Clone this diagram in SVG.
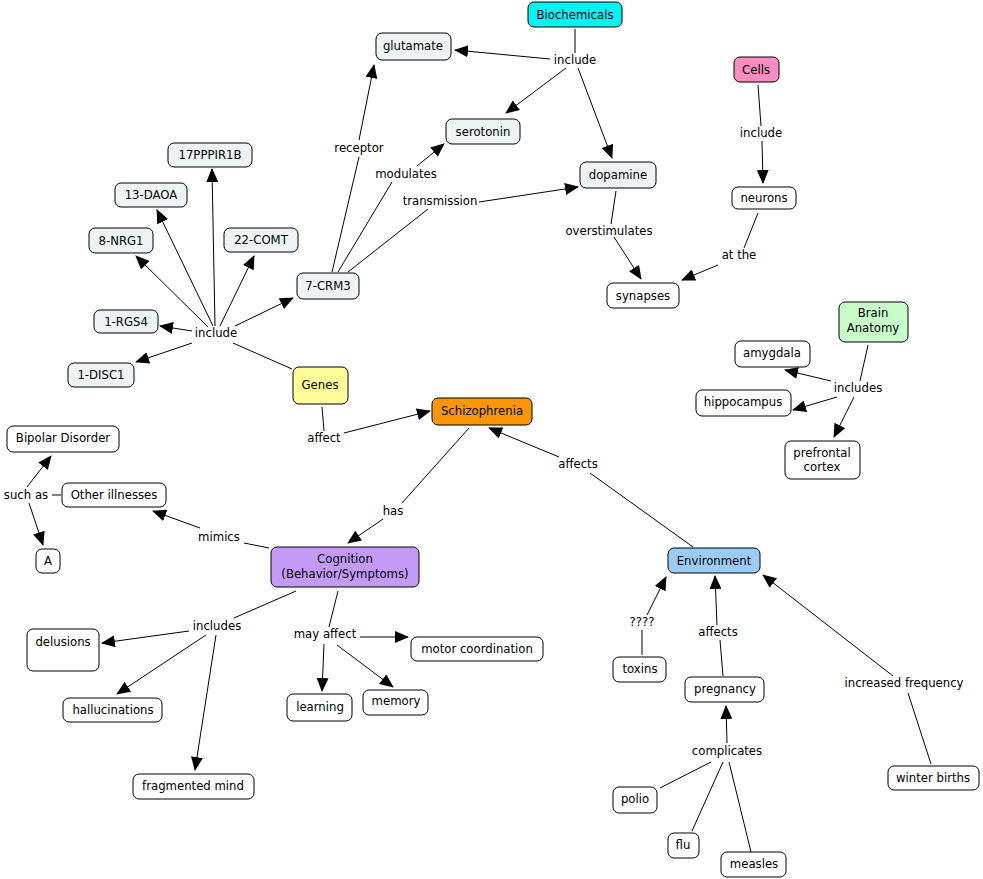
<svg xmlns="http://www.w3.org/2000/svg" width="983" height="879" viewBox="0 0 983 879">
<style>
text{font-family:"DejaVu Sans","Verdana",sans-serif;font-size:11.7px;fill:#000;text-anchor:middle}
.n rect{stroke:#000;stroke-width:1;fill:#fff}
.g rect{fill:#EEF4F6}
.c line{stroke:#000;stroke-width:1}
.a{marker-end:url(#ah)}
</style>
<defs>
<marker id="ah" markerUnits="userSpaceOnUse" markerWidth="14" markerHeight="12" refX="13" refY="6" orient="auto" viewBox="0 0 14 12">
<path d="M0,0 L14,6 L0,12 z" fill="#000"/>
</marker>
</defs>
<rect width="983" height="879" fill="#fff"/>
<g id="connectors" class="c">
<line x1="575" y1="29" x2="575" y2="53"/>
<line class="a" x1="550" y1="59" x2="455" y2="50"/>
<line class="a" x1="566" y1="68" x2="506" y2="113"/>
<line class="a" x1="578" y1="68" x2="612" y2="158"/>
<line x1="332" y1="272" x2="359" y2="157"/>
<line class="a" x1="359" y1="140" x2="374" y2="65"/>
<line x1="338" y1="272" x2="392" y2="182"/>
<line class="a" x1="417" y1="166" x2="444" y2="144"/>
<line x1="348" y1="272" x2="428" y2="209"/>
<line class="a" x1="479" y1="202" x2="578" y2="187"/>
<line x1="616" y1="191" x2="611" y2="224"/>
<line class="a" x1="614" y1="237" x2="641" y2="279"/>
<line x1="758" y1="85" x2="761" y2="126"/>
<line class="a" x1="762" y1="141" x2="763" y2="183"/>
<line x1="758" y1="213" x2="744" y2="248"/>
<line class="a" x1="718" y1="265" x2="682" y2="280"/>
<line x1="868" y1="345" x2="860" y2="381"/>
<line class="a" x1="831" y1="381" x2="785" y2="370"/>
<line class="a" x1="837" y1="397" x2="793" y2="410"/>
<line class="a" x1="854" y1="397" x2="834" y2="437"/>
<line x1="292" y1="369" x2="233" y2="343"/>
<line class="a" x1="235" y1="326" x2="293" y2="298"/>
<line class="a" x1="192" y1="331" x2="160" y2="326"/>
<line class="a" x1="192" y1="343" x2="136" y2="362"/>
<line class="a" x1="208" y1="327" x2="136" y2="256"/>
<line class="a" x1="213" y1="326" x2="157" y2="210"/>
<line class="a" x1="215" y1="326" x2="212" y2="169"/>
<line class="a" x1="220" y1="326" x2="254" y2="256"/>
<line x1="322" y1="407" x2="324" y2="431"/>
<line class="a" x1="344" y1="433" x2="430" y2="411"/>
<line x1="469" y1="428" x2="402" y2="503"/>
<line class="a" x1="383" y1="519" x2="348" y2="543"/>
<line x1="693" y1="547" x2="590" y2="473"/>
<line class="a" x1="559" y1="457" x2="489" y2="428"/>
<line x1="61" y1="495" x2="52" y2="495"/>
<line class="a" x1="27" y1="487" x2="51" y2="456"/>
<line class="a" x1="29" y1="503" x2="43" y2="545"/>
<line x1="269" y1="548" x2="244" y2="543"/>
<line class="a" x1="200" y1="528" x2="153" y2="511"/>
<line x1="296" y1="591" x2="234" y2="618"/>
<line class="a" x1="189" y1="631" x2="102" y2="643"/>
<line class="a" x1="206" y1="635" x2="117" y2="694"/>
<line class="a" x1="216" y1="635" x2="195" y2="770"/>
<line x1="338" y1="591" x2="329" y2="627"/>
<line class="a" x1="360" y1="637" x2="408" y2="637"/>
<line class="a" x1="324" y1="644" x2="322" y2="691"/>
<line class="a" x1="337" y1="645" x2="393" y2="687"/>
<line x1="642" y1="655" x2="642" y2="630"/>
<line class="a" x1="647" y1="615" x2="666" y2="577"/>
<line x1="723" y1="676" x2="720" y2="640"/>
<line class="a" x1="717" y1="625" x2="715" y2="576"/>
<line x1="931" y1="764" x2="908" y2="693"/>
<line class="a" x1="893" y1="676" x2="763" y2="575"/>
<line x1="660" y1="788" x2="711" y2="762"/>
<line x1="692" y1="831" x2="723" y2="762"/>
<line x1="751" y1="852" x2="729" y2="762"/>
<line class="a" x1="727" y1="743" x2="726" y2="706"/>
</g>
<g id="labels">
<text x="575" y="64">include</text>
<text x="359" y="152">receptor</text>
<text x="406" y="178">modulates</text>
<text x="440" y="205">transmission</text>
<text x="609" y="235">overstimulates</text>
<text x="761" y="137">include</text>
<text x="739" y="259">at the</text>
<text x="858" y="392">includes</text>
<text x="216" y="337">include</text>
<text x="324" y="442">affect</text>
<text x="393" y="515">has</text>
<text x="578" y="468">affects</text>
<text x="26" y="499">such as</text>
<text x="219" y="541">mimics</text>
<text x="217" y="630">includes</text>
<text x="325" y="638">may affect</text>
<text x="642" y="626">????</text>
<text x="718" y="636">affects</text>
<text x="904" y="687">increased frequency</text>
<text x="727" y="755">complicates</text>
</g>
<g id="biochemicals" class="n"><rect x="528" y="2" width="94" height="25" rx="6" style="fill:#00F4F4"/><text x="575" y="19">Biochemicals</text></g>
<g id="glutamate" class="n g"><rect x="376" y="33" width="75" height="27" rx="6"/><text x="413" y="50">glutamate</text></g>
<g id="serotonin" class="n g"><rect x="446" y="119" width="74" height="25" rx="6"/><text x="483" y="136">serotonin</text></g>
<g id="dopamine" class="n g"><rect x="580" y="162" width="76" height="26" rx="6"/><text x="618" y="179">dopamine</text></g>
<g id="synapses" class="n"><rect x="607" y="283" width="72" height="25" rx="6"/><text x="643" y="300">synapses</text></g>
<g id="crm3" class="n g"><rect x="297" y="273" width="62" height="26" rx="6"/><text x="328" y="290">7-CRM3</text></g>
<g id="ppp" class="n g"><rect x="168" y="143" width="84" height="24" rx="6"/><text x="210" y="159">17PPPIR1B</text></g>
<g id="daoa" class="n g"><rect x="115" y="183" width="72" height="24" rx="6"/><text x="151" y="199">13-DAOA</text></g>
<g id="nrg1" class="n g"><rect x="89" y="228" width="64" height="25" rx="6"/><text x="121" y="245">8-NRG1</text></g>
<g id="comt" class="n g"><rect x="224" y="228" width="74" height="24" rx="6"/><text x="261" y="244">22-COMT</text></g>
<g id="rgs4" class="n g"><rect x="94" y="310" width="64" height="23" rx="6"/><text x="126" y="326">1-RGS4</text></g>
<g id="disc1" class="n g"><rect x="68" y="363" width="66" height="24" rx="6"/><text x="101" y="379">1-DISC1</text></g>
<g id="genes" class="n"><rect x="293" y="367" width="55" height="37" rx="6" style="fill:#FFFC99"/><text x="320" y="389">Genes</text></g>
<g id="cells" class="n"><rect x="734" y="57" width="45" height="25" rx="6" style="fill:#F98CC0"/><text x="756" y="74">Cells</text></g>
<g id="neurons" class="n"><rect x="732" y="187" width="64" height="22" rx="6"/><text x="764" y="202">neurons</text></g>
<g id="brain" class="n"><rect x="839" y="302" width="69" height="40" rx="6" style="fill:#C8FCC8"/><text x="873" y="317">Brain</text><text x="873" y="332">Anatomy</text></g>
<g id="amygdala" class="n"><rect x="735" y="341" width="75" height="26" rx="6"/><text x="772" y="357">amygdala</text></g>
<g id="hippocampus" class="n"><rect x="696" y="390" width="95" height="26" rx="6"/><text x="743" y="406">hippocampus</text></g>
<g id="prefrontal" class="n"><rect x="785" y="441" width="75" height="38" rx="6"/><text x="822" y="457">prefrontal</text><text x="822" y="471">cortex</text></g>
<g id="schizophrenia" class="n"><rect x="432" y="398" width="100" height="27" rx="6" style="fill:#FB9604"/><text x="482" y="415">Schizophrenia</text></g>
<g id="bipolar" class="n"><rect x="7" y="426" width="112" height="26" rx="6"/><text x="63" y="442">Bipolar Disorder</text></g>
<g id="other" class="n"><rect x="62" y="483" width="104" height="24" rx="6"/><text x="114" y="499">Other illnesses</text></g>
<g id="a" class="n"><rect x="36" y="549" width="24" height="24" rx="6"/><text x="48" y="565">A</text></g>
<g id="cognition" class="n"><rect x="271" y="547" width="148" height="40" rx="6" style="fill:#C49AF7"/><text x="345" y="563">Cognition</text><text x="345" y="578">(Behavior/Symptoms)</text></g>
<g id="delusions" class="n"><rect x="27" y="629" width="72" height="42" rx="6"/><text x="63" y="646">delusions</text></g>
<g id="hallucinations" class="n"><rect x="63" y="698" width="99" height="24" rx="6"/><text x="113" y="714">hallucinations</text></g>
<g id="fragmented" class="n"><rect x="133" y="774" width="121" height="25" rx="6"/><text x="193" y="790">fragmented mind</text></g>
<g id="learning" class="n"><rect x="287" y="694" width="65" height="27" rx="6"/><text x="320" y="711">learning</text></g>
<g id="memory" class="n"><rect x="363" y="690" width="65" height="25" rx="6"/><text x="396" y="705">memory</text></g>
<g id="motor" class="n"><rect x="411" y="637" width="132" height="24" rx="6"/><text x="477" y="653">motor coordination</text></g>
<g id="environment" class="n"><rect x="668" y="548" width="92" height="25" rx="6" style="fill:#9CCBF6"/><text x="714" y="565">Environment</text></g>
<g id="toxins" class="n"><rect x="613" y="657" width="53" height="25" rx="6"/><text x="640" y="673">toxins</text></g>
<g id="pregnancy" class="n"><rect x="685" y="677" width="79" height="25" rx="6"/><text x="725" y="693">pregnancy</text></g>
<g id="winter" class="n"><rect x="888" y="766" width="91" height="24" rx="6"/><text x="933" y="782">winter births</text></g>
<g id="polio" class="n"><rect x="613" y="787" width="44" height="26" rx="6"/><text x="635" y="803">polio</text></g>
<g id="flu" class="n"><rect x="668" y="833" width="31" height="25" rx="6"/><text x="683" y="849">flu</text></g>
<g id="measles" class="n"><rect x="721" y="852" width="65" height="25" rx="6"/><text x="754" y="868">measles</text></g>
</svg>
